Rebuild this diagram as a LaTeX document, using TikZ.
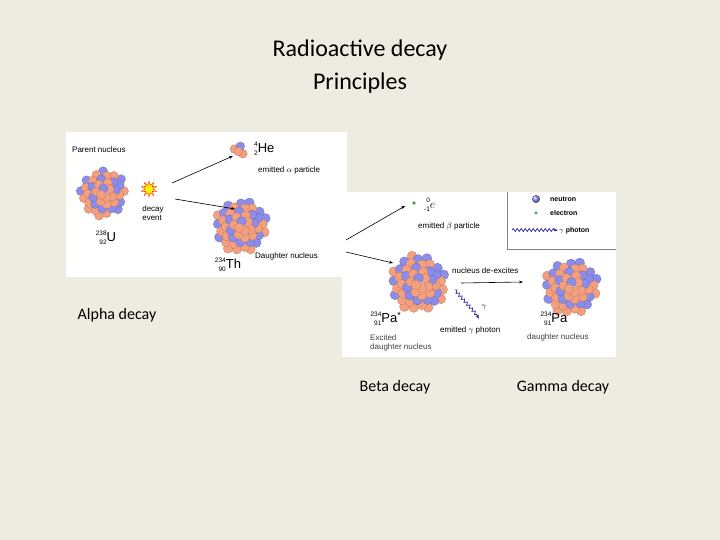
\documentclass[tikz,border=0pt]{standalone}
\usepackage{fontspec}
\setmainfont{Carlito}
\newfontfamily\arial{Liberation Sans}
\usetikzlibrary{decorations.pathmorphing,arrows.meta,shapes.geometric,calc}
\definecolor{bg}{HTML}{EEEBE1}
\definecolor{prot}{HTML}{F4A07E}
\definecolor{neut}{HTML}{8C8CEA}
\definecolor{elec}{HTML}{4E9A4E}
\definecolor{wave}{HTML}{2A2A9A}
\tikzset{
 lbl/.style={font=\arial\fontsize{8}{9}\selectfont, inner sep=0pt},
 iso/.style={font=\arial\fontsize{13}{14}\selectfont, inner sep=0pt},
 captxt/.style={font=\fontsize{16}{18}\selectfont, inner sep=0pt},
 arr/.style={-{Stealth[length=4pt]}, line width=0.6pt},
 panel/.style={fill=white, draw=none},
 wav/.style={wave, line width=0.7pt, decorate, decoration={snake, amplitude=1.5pt, segment length=4pt}}
}
\newcommand{\isot}[3]{\raisebox{-0.45ex}{\fontsize{6.5}{7}\selectfont\shortstack[r]{#1\\[1.5pt]#2}}#3}
\newcommand{\nucl}[5]{% x y radius count ballradius
 \foreach \i in {#4,...,1}{
  \pgfmathsetmacro{\rr}{#3*sqrt((\i-0.5)/#4)}
  \pgfmathsetmacro{\aa}{\i*137.5}
  \pgfmathtruncatemacro{\bb}{mod(floor(\i*\i*4.37+\i*1.9),10)}
  \ifnum\bb<4 \def\cc{neut}\else\def\cc{prot}\fi
  \fill[\cc, draw=\cc!70!black, line width=0.2pt] ($(#1,#2)+(\aa:\rr)$) circle (#5);
 }}
\begin{document}
\begin{tikzpicture}[x=1pt,y=-1pt]
\fill[bg] (0,0) rectangle (720,540);
\useasboundingbox (0,0) rectangle (720,540);
\node[captxt, font=\fontsize{24}{29}\selectfont, align=center] (title) at (360,67) {Radioactive decay\\[4pt]Principles};
% panels
\fill[panel] (342,192) rectangle (616,357);
\fill[panel] (66,132) rectangle (347,277);
% alpha
\node[lbl, anchor=west] (parent) at (72,150) {Parent nucleus};
\nucl{103}{193}{23}{40}{4.6}
\node[star, star points=10, star point ratio=2, fill=yellow, draw=red, line width=0.3pt, minimum size=16pt, inner sep=0pt] (ev) at (149,189) {};
\node[lbl, align=left] (evt) at (153,213) {decay\\event};
\node[iso] (U) at (106,238) {\isot{238}{92}{U}};
\nucl{240}{150}{6}{4}{4.4}
\node[iso, anchor=west] (He) at (254,149) {\isot{4}{2}{He}};
\node[lbl, anchor=west] (ea) at (258,170) {emitted $\alpha$ particle};
\nucl{241}{226}{26}{48}{4.8}
\node[lbl, anchor=west] (dn) at (255,256) {Daughter nucleus};
\node[iso] (Th) at (228,265) {\isot{234}{90}{Th}};
\coordinate (a1) at (172,183); \coordinate (a2) at (175,199);
\draw[arr] (a1) -- (233,156);
\draw[arr] (a2) -- (235,209);
% beta
\coordinate (b1) at (346,240); \coordinate (b2) at (346,252);
\draw[arr] (b1) -- (405,206);
\draw[arr] (b2) -- (393,263);
\fill[elec] (414,203) circle (1.8);
\node[iso, anchor=west] (e) at (424,205) {\isot{0}{-1}{$e$}};
\node[lbl, anchor=west] (eb) at (418,226) {emitted $\beta$ particle};
\draw[gray, line width=0.5pt] (507,192) -- (507,249) -- (616,249);
\shade[ball color=neut] (536,199) circle (4);
\fill[elec] (536,213) circle (1.6);
\node[lbl, anchor=west, font=\arial\bfseries\fontsize{7}{8}\selectfont] (ln) at (550,199) {neutron};
\node[lbl, anchor=west, font=\arial\bfseries\fontsize{7}{8}\selectfont] (le) at (550,213) {electron};
\coordinate (w1) at (512,230); \coordinate (w2) at (556,230);
\draw[wav] (w1) -- (w2); \draw[wave,-{Latex[length=4pt]}] (555,230) -- (558,231);
\node[lbl, anchor=west, font=\arial\bfseries\fontsize{7}{8}\selectfont] (lg) at (559,231) {$\gamma$ photon};
\nucl{418}{283}{28}{50}{4.9}
\node[iso] (Pas) at (386,319) {\isot{234}{91}{Pa}\textsuperscript{\small *}};
\node[lbl, anchor=west, align=left, text=black!75] (exc) at (370,343) {Excited\\daughter nucleus};
\node[lbl, anchor=west] (dx) at (452,271) {nucleus de-excites};
\coordinate (c1) at (461,283);
\draw[arr] (c1) -- (523,282);
\coordinate (g1) at (455,290);
\draw[wav] (g1) -- (477,315); \draw[wave,-{Latex[length=4pt]}] (477,315) -- (479,319);
\node[lbl] (gam) at (484,308) {$\gamma$};
\node[lbl, anchor=west] (eg) at (440,330) {emitted $\gamma$ photon};
\nucl{571}{287}{27}{48}{4.8}
\node[iso] (Pa) at (554,319) {\isot{234}{91}{Pa}};
\node[lbl, anchor=west, text=black!75] (dd) at (527,337) {daughter nucleus};
% captions
\node[captxt] (al) at (117,315) {Alpha decay};
\node[captxt] (bd) at (395,387) {Beta decay};
\node[captxt] (gd) at (563,387) {Gamma decay};
\end{tikzpicture}
\end{document}
